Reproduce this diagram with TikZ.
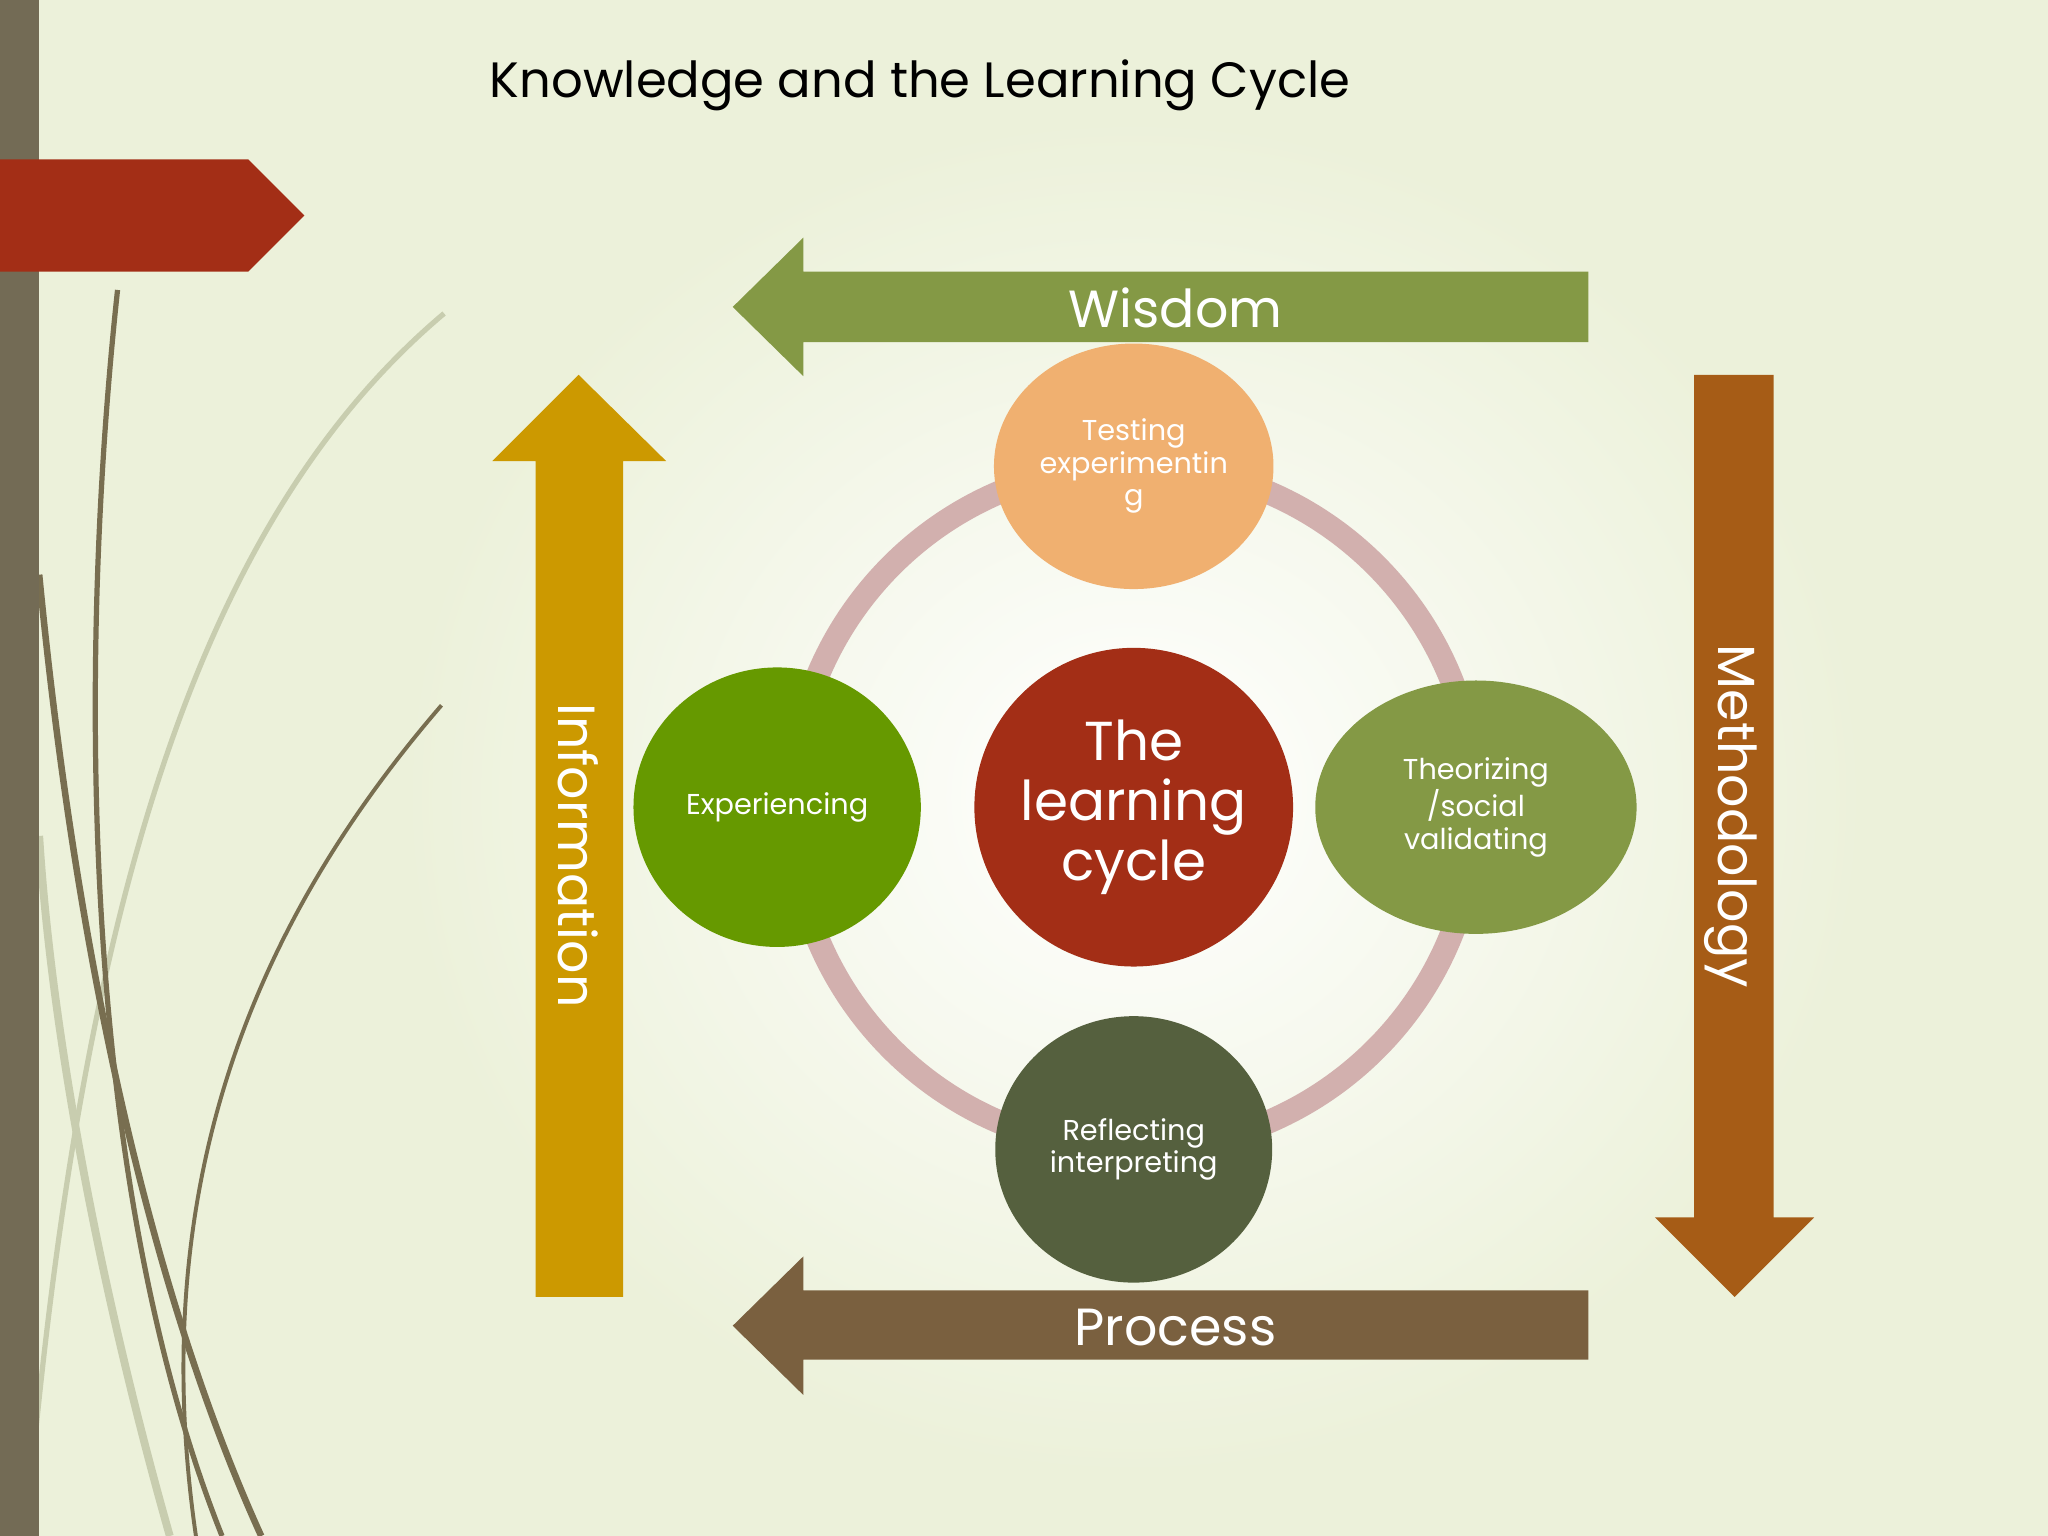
\documentclass[tikz,border=0pt]{standalone}
\usepackage{fontspec}
\setmainfont{Poppins}
\usetikzlibrary{shapes.geometric}
\definecolor{bgc}{RGB}{236,241,218}
\definecolor{barc}{RGB}{115,107,85}
\definecolor{redc}{RGB}{163,46,22}
\definecolor{wisc}{RGB}{132,153,69}
\definecolor{proc}{RGB}{122,96,63}
\definecolor{infc}{RGB}{204,153,0}
\definecolor{metc}{RGB}{166,92,22}
\definecolor{ringc}{RGB}{210,176,174}
\definecolor{tesc}{RGB}{240,176,112}
\definecolor{expc}{RGB}{102,153,0}
\definecolor{refc}{RGB}{85,96,62}
\definecolor{grassc}{RGB}{120,110,80}
\definecolor{grassl}{RGB}{200,205,175}
\tikzset{
  blob/.style={ellipse,inner sep=0pt,text=white,align=center,font=\fontsize{11}{12.5}\selectfont},
  arrtxt/.style={text=white,font=\fontsize{20}{22}\selectfont}
}
\begin{document}
\begin{tikzpicture}[x=0.5pt,y=-0.5pt]
\useasboundingbox (0,0) rectangle (1568,1176);
\fill[bgc] (0,0) rectangle (1568,1176);
\shade[inner color=white,outer color=bgc] (868,610) ellipse (560 and 520);
% grass
\draw[grassl,line width=2pt] (20,1176) .. controls (60,700) and (150,400) .. (340,240);
\draw[grassl,line width=3pt] (130,1176) .. controls (80,1000) and (40,800) .. (30,640);
\draw[grassc,line width=2pt] (90,222) .. controls (60,500) and (60,900) .. (170,1176);
\draw[grassc,line width=2.5pt] (30,440) .. controls (60,750) and (120,1000) .. (200,1176);
\draw[grassc,line width=1.5pt] (338,540) .. controls (200,700) and (110,900) .. (150,1176);
\fill[barc] (0,0) rectangle (30,1176);
\fill[redc] (0,122) -- (190,122) -- (233,165) -- (190,208) -- (0,208) -- cycle;
\node[font=\fontsize{19}{22}\selectfont,anchor=west] (title) at (368,65) {Knowledge and the Learning Cycle};
% arrows
\fill[wisc] (1216,208) -- (615,208) -- (615,182) -- (561,235) -- (615,288) -- (615,262) -- (1216,262) -- cycle;
\node[arrtxt] (wis) at (900,236) {Wisdom};
\fill[proc] (1216,988) -- (615,988) -- (615,962) -- (561,1015) -- (615,1068) -- (615,1041) -- (1216,1041) -- cycle;
\node[arrtxt] (pro) at (900,1016) {Process};
\fill[infc] (410,993) -- (410,353) -- (377,353) -- (443,287) -- (510,353) -- (477,353) -- (477,993) -- cycle;
\node[arrtxt,rotate=-90] (inf) at (443,655) {Information};
\fill[metc] (1297,287) -- (1358,287) -- (1358,932) -- (1389,932) -- (1328,993) -- (1267,932) -- (1297,932) -- cycle;
\node[arrtxt,rotate=-90] (met) at (1325,625) {Methodology};
% ring
\draw[ringc,line width=9pt] (868,618) circle [radius=131pt];
\node[blob,fill=tesc,minimum width=107pt,minimum height=94pt] (tes) at (868,357) {Testing\\experimentin\\g};
\node[blob,fill=expc,minimum width=110pt,minimum height=107pt] (exp) at (595,618) {Experiencing};
\node[blob,fill=wisc,minimum width=123pt,minimum height=97pt] (the) at (1130,618) {Theorizing\\/social\\validating};
\node[blob,fill=refc,minimum width=106pt,minimum height=102pt] (ref) at (868,880) {Reflecting\\interpreting};
\node[circle,fill=redc,minimum size=122pt,inner sep=0pt,text=white,align=center,font=\fontsize{21}{23}\selectfont] (cen) at (868,618) {The\\learning\\cycle};
\end{tikzpicture}
\end{document}
